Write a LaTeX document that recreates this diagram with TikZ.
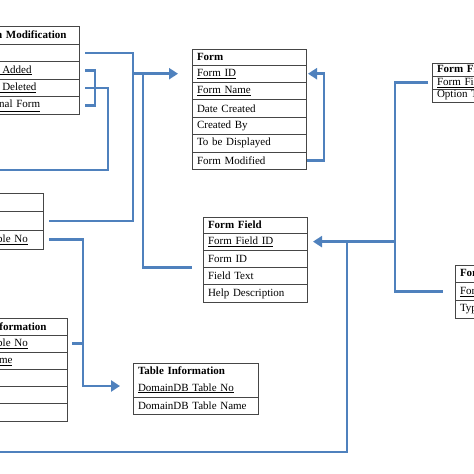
\documentclass[tikz,border=0pt]{standalone}
\usepackage{fontspec}
\setmainfont{Liberation Serif}
\usetikzlibrary{positioning,arrows.meta}
\definecolor{linkblue}{RGB}{79,129,189}
\definecolor{tline}{RGB}{70,70,70}
\begin{document}
\begin{tikzpicture}[x=1pt,y=-1pt,
  every node/.style={font=\fontsize{11}{13}\selectfont},
  cell/.style 2 args={draw=tline,line width=0.7pt,rectangle,outer sep=0pt,inner xsep=5pt,inner ysep=0pt,align=left,text width=#1,minimum height=#2},
  hd/.style={font=\fontsize{11}{13}\selectfont\bfseries},
  link/.style={draw=linkblue,line width=2.6pt},
  arr/.style={link,-{Triangle[length=9pt,width=11pt]}}]
\fill[white] (0,0) rectangle (474,474);
\useasboundingbox (0,0) rectangle (474,474);
\clip (0,0) rectangle (474,474);
% Form Modification (cut by the left edge)
\node[cell={98pt}{18pt},hd,anchor=north west] (fm0) at (-29,26) {Form Modification};
\node[cell={98pt}{17.6pt},below=0pt of fm0] (fm1) {};
\node[cell={98pt}{17.6pt},below=0pt of fm1] (fm2) {\underline{Field Added}};
\node[cell={98pt}{17.6pt},below=0pt of fm2] (fm3) {\underline{Field Deleted}};
\node[cell={98pt}{17.6pt},below=0pt of fm3] (fm4) {\underline{Original Form}};
% left table, middle
\node[cell={106pt}{18.7pt},anchor=north west] (lm0) at (-73,193) {};
\node[cell={106pt}{18.7pt},below=0pt of lm0] (lm1) {};
\node[cell={106pt}{18.7pt},below=0pt of lm1] (lm2) {\underline{DomainDB Table No}};
% left table, bottom
\node[cell={130pt}{17pt},hd,anchor=north west] (bl0) at (-73,318) {Table Field Information};
\node[cell={130pt}{17.2pt},below=0pt of bl0] (bl1) {\underline{DomainDB Table No}};
\node[cell={130pt}{17.2pt},below=0pt of bl1] (bl2) {\underline{Table Field Name}};
\node[cell={130pt}{17.2pt},below=0pt of bl2] (bl3) {};
\node[cell={130pt}{17.2pt},below=0pt of bl3] (bl4) {};
\node[cell={130pt}{17.2pt},below=0pt of bl4] (bl5) {};
% Form
\node[cell={104pt}{16pt},hd,anchor=north west] (f0) at (192,49) {Form};
\node[cell={104pt}{17.4pt},below=0pt of f0] (f1) {\underline{Form ID}};
\node[cell={104pt}{17.4pt},below=0pt of f1] (f2) {\underline{Form Name}};
\node[cell={104pt}{17.4pt},below=0pt of f2] (f3) {Date Created};
\node[cell={104pt}{17.4pt},below=0pt of f3] (f4) {Created By};
\node[cell={104pt}{17.4pt},below=0pt of f4] (f5) {To be Displayed};
\node[cell={104pt}{17.4pt},below=0pt of f5] (f6) {Form Modified};
% Form Field
\node[cell={94pt}{16pt},hd,anchor=north west] (ff0) at (203,217) {Form Field};
\node[cell={94pt}{17.25pt},below=0pt of ff0] (ff1) {\underline{Form Field ID}};
\node[cell={94pt}{17.25pt},below=0pt of ff1] (ff2) {Form ID};
\node[cell={94pt}{17.25pt},below=0pt of ff2] (ff3) {Field Text};
\node[cell={94pt}{17.25pt},below=0pt of ff3] (ff4) {Help Description};
% Table Information
\node[cell={115pt}{34pt},anchor=north west,font=\fontsize{11}{16.5}\selectfont] (ti1) at (133,363) {\textbf{Table Information}\\\underline{DomainDB Table No}};
\node[cell={115pt}{17pt},below=0pt of ti1] (ti2) {DomainDB Table Name};
% right tables (cut by the right edge)
\node[cell={130pt}{13pt},hd,anchor=north west] (rt0) at (432,63) {Form Field Option};
\node[cell={130pt}{13pt},below=0pt of rt0] (rt1) {\underline{Form Field ID}};
\node[cell={130pt}{13pt},below=0pt of rt1] (rt2) {Option Text};
\node[cell={130pt}{17.7pt},hd,anchor=north west] (rl0) at (455,265) {Form Field Type};
\node[cell={130pt}{17.7pt},below=0pt of rl0] (rl1) {\underline{Form Field ID}};
\node[cell={130pt}{17.7pt},below=0pt of rl1] (rl2) {Type Name};
% buses
\coordinate (busA) at (133,0);
\coordinate (busB) at (143,0);
\coordinate (busC) at (83,0);
\coordinate (busD) at (395,0);
\coordinate (busE) at (347,0);
\coordinate (offA) at (-5,170);
\coordinate (offB) at (-5,452);
\coordinate (tiNo) at ([yshift=-6pt,xshift=-13pt]ti1.west);
% into Form ID
\draw[link] ([xshift=6pt]fm1.east) -| (busA |- lm1.east) -- ([xshift=6pt]lm1.east);
\draw[arr] (busA |- f1.west) -- ([xshift=-14pt]f1.west);
\draw[link] (busB |- f1.west) |- ([xshift=-11pt]ff2.south west);
\draw[arr] ([xshift=1pt]f6.east) -- ++(17,0) |- ([xshift=2pt]f1.east);
\draw[link] ([xshift=6pt]fm2.east) -- ++(10,0) |- ([xshift=6pt]fm4.east);
\draw[link] ([xshift=6pt]fm3.east) -- ++(23,0) |- (offA);
% into Table Information
\draw[arr] ([xshift=6pt]lm2.east) -| (busC |- tiNo) -- (tiNo);
\draw[link] ([xshift=5pt]bl1.east) -- (busC |- bl1.east);
% into Form Field ID
\draw[link] ([xshift=-4pt]rt1.west) -| (busD |- rl1.west) -- ([xshift=-12pt]rl1.west);
\draw[arr] (busD |- ff1.east) -- ([xshift=6pt]ff1.east);
\draw[link] (offB) -| (busE |- ff1.east);
\end{tikzpicture}
\end{document}
